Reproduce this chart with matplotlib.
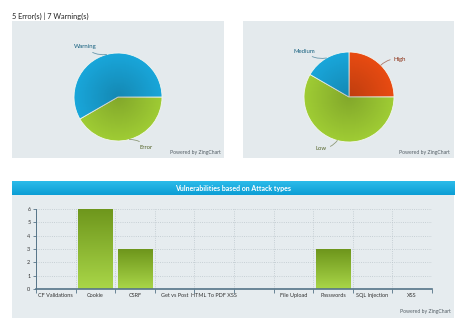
import matplotlib.pyplot as plt
import numpy as np
from matplotlib.patches import Rectangle, Circle
from matplotlib.colors import LinearSegmentedColormap

plt.rcParams['font.family'] = ['Lato', 'DejaVu Sans']

# data
summary_labels = ['Error', 'Warning']
summary_counts = [5, 7]
summary_colors = ['#9fcc34', '#19a6da']
summary_text = ['#55652b', '#15607f']

severity_labels = ['High', 'Low', 'Medium']
severity_counts = [3, 7, 2]
severity_colors = ['#e84b12', '#9fcc34', '#19a6da']
severity_text = ['#8a2c10', '#55652b', '#15607f']

categories = ['CF Validations', 'Cookie', 'CSRF', 'Get vs Post', 'HTML To PDF XSS',
              '', 'File Upload', 'Passwords', 'SQL Injection', 'XSS']
attack_counts = [0, 6, 3, 0, 0, 0, 0, 3, 0, 0]

W, H = 474, 326
fig = plt.figure(figsize=(W / 100, H / 100), dpi=100)
fig.patch.set_facecolor('white')


def box(x0, y0, x1, y1):
    return [x0 / W, 1 - y1 / H, (x1 - x0) / W, (y1 - y0) / H]


def panel(x0, y0, x1, y1, color='#e4eaed'):
    fig.add_artist(Rectangle((x0 / W, 1 - y1 / H), (x1 - x0) / W, (y1 - y0) / H,
                             transform=fig.transFigure, facecolor=color,
                             edgecolor='none', zorder=0))


def powered(x, y):
    fig.text(x / W, 1 - y / H, 'Powered by ZingChart', fontsize=3.7,
             color='#555f66', ha='right', va='center')


shade = LinearSegmentedColormap.from_list('shade', [(0, 0, 0, 0.18), (0, 0, 0, 0.0)])


def draw_pie(cx, cy, r, counts, labels, colors, tcolors, start):
    ax = fig.add_axes(box(cx - r, cy - r, cx + r, cy + r))
    wedges, _ = ax.pie(counts, colors=colors, startangle=start, counterclock=False,
                       radius=1, wedgeprops=dict(edgecolor='#f2f6f0', linewidth=0.6))
    # soft radial shading like the original
    yy, xx = np.mgrid[-1:1:200j, -1:1:200j]
    rr = np.clip(np.sqrt(xx ** 2 + yy ** 2), 0, 1)
    im = ax.imshow(rr, extent=[-1, 1, -1, 1], cmap=shade, zorder=3)
    im.set_clip_path(Circle((0, 0), 1, transform=ax.transData))
    for w, lab, tc in zip(wedges, labels, tcolors):
        a = np.deg2rad((w.theta1 + w.theta2) / 2)
        c, s = np.cos(a), np.sin(a)
        side = 1 if c >= 0 else -1
        ax.annotate(lab, xy=(c, s), xytext=(1.12 * c + side * 0.2, 1.18 * s),
                    ha='left' if side > 0 else 'right', va='center',
                    fontsize=4.3, color=tc, annotation_clip=False,
                    arrowprops=dict(arrowstyle='-', color=tc, alpha=0.6, lw=0.6,
                                    shrinkA=0.5, shrinkB=0,
                                    connectionstyle='arc3,rad=0.25'))
    ax.set_xlim(-1, 1)
    ax.set_ylim(-1, 1)
    ax.set_aspect('auto')
    ax.axis('off')


# top left
fig.text(12 / W, 1 - 16 / H, '5 Error(s) | 7 Warning(s)', fontsize=5.3,
         color='#222222', va='center', ha='left')
panel(12, 21, 224, 158)
draw_pie(118, 97, 44, summary_counts, summary_labels, summary_colors, summary_text, 0)
powered(221, 153)

# top right
panel(243, 21, 454, 158)
draw_pie(349, 97, 45, severity_counts, severity_labels, severity_colors, severity_text, 90)
powered(450, 153)

# bottom bar chart
panel(12, 181, 454, 318, color='#e6ecef')
hdr = fig.add_axes(box(12, 181, 454, 195))
hdr.imshow(np.linspace(0, 1, 50).reshape(-1, 1), aspect='auto',
           cmap=LinearSegmentedColormap.from_list('hb', ['#2cbbe9', '#0c9ed5']),
           extent=[0, 1, 0, 1])
hdr.set_xlim(0, 1)
hdr.set_ylim(0, 1)
hdr.axis('off')
hdr.text(0.5, 0.5, 'Vulnerabilities based on Attack types', color='white',
         fontsize=5.0, fontweight='bold', ha='center', va='center')

ax = fig.add_axes(box(36, 209, 432, 289))
ax.patch.set_alpha(0)
x = np.arange(len(categories))
bars = ax.bar(x, attack_counts, width=0.86, color='#8bbb2e',
              edgecolor='#c9e28f', linewidth=0.4, zorder=2)
green = LinearSegmentedColormap.from_list('g', ['#a9d648', '#6e961c'])
for b in bars:
    h = b.get_height()
    if h <= 0:
        continue
    im = ax.imshow(np.linspace(0, 1, 60).reshape(-1, 1), origin='lower', cmap=green,
                   extent=[b.get_x(), b.get_x() + b.get_width(), 0, h],
                   aspect='auto', zorder=2.5)
    im.set_clip_path(b)

ax.set_xlim(-0.5, len(categories) - 0.5)
ax.set_ylim(0, 6)
ax.set_xticks(x)
ax.set_xticklabels(categories, fontsize=4.0, color='#333333')
ax.set_xticks(np.arange(len(categories) + 1) - 0.5, minor=True)
ax.tick_params(axis='x', which='major', length=0, pad=3)
ax.tick_params(axis='x', which='minor', length=3, width=0.6, color='#557488')
ax.set_yticks(range(0, 7))
ax.tick_params(axis='y', labelsize=4.0, labelcolor='#333333', length=2.5,
               width=0.6, color='#557488', pad=1.5)
ax.yaxis.grid(True, linestyle=':', color='#bcc6cc', linewidth=0.6)
ax.xaxis.grid(True, which='minor', linestyle=':', color='#bcc6cc', linewidth=0.6)
ax.set_axisbelow(True)
for s in ['top', 'right']:
    ax.spines[s].set_visible(False)
ax.spines['left'].set_color('#557488')
ax.spines['left'].set_linewidth(0.7)
ax.spines['bottom'].set_color('#557488')
ax.spines['bottom'].set_linewidth(1.2)
powered(451, 312)

fig.savefig('out.png', dpi=100)
